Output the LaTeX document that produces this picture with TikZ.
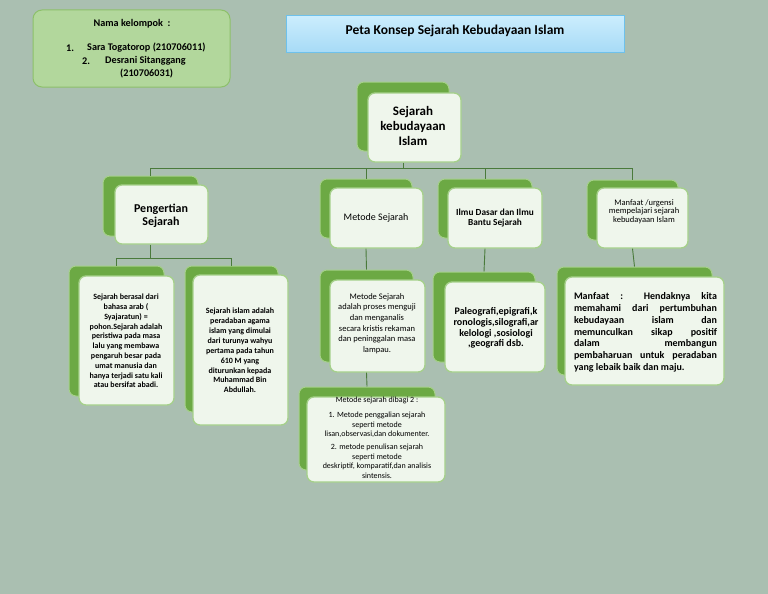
\documentclass[tikz,border=0pt]{standalone}
\usepackage{fontspec}
\setmainfont{Carlito}
\usetikzlibrary{fit}
\definecolor{bgc}{HTML}{AABFB1}
\definecolor{backgreen}{HTML}{6CA944}
\definecolor{boxedge}{HTML}{A5D08A}
\definecolor{frontfill}{HTML}{EFF6EC}
\definecolor{connc}{HTML}{4A7A3B}
\definecolor{namefill}{HTML}{B2D79C}
\definecolor{nameedge}{HTML}{8DC06A}
\definecolor{titletop}{HTML}{CBEDFD}
\definecolor{titlebot}{HTML}{A6DAF6}
\definecolor{titleedge}{HTML}{6EC1EB}
\begin{document}
\begin{tikzpicture}[x=1pt,y=-1pt,
  backbox/.style={draw=boxedge, line width=1pt, fill=backgreen, rounded corners=7pt, inner sep=0pt},
  frontbox/.style={draw=boxedge, line width=1.3pt, fill=frontfill, rounded corners=7pt, inner sep=0pt},
  txt/.style={inner sep=0pt, align=center, text=black},
  namefont/.style={font=\fontsize{10.2}{12}\selectfont\bfseries},
  conn/.style={draw=connc, line width=0.9pt}]
\fill[bgc] (0,0) rectangle (768,594);
\useasboundingbox (0,0) rectangle (768,594);

% name box and title
\node[draw=nameedge, line width=1pt, fill=namefill, rounded corners=9pt, inner sep=0pt, fit={(33,10) (230,87)}] (nameBox) {};
\node[txt, namefont] (nameT) at (132,24) {Nama kelompok \ :};
\node[txt, anchor=west, namefont] (nameN1) at (66,48) {1.};
\node[txt, anchor=west, namefont] (nameL1) at (87,48) {Sara Togatorop (210706011)};
\node[txt, anchor=west, namefont] (nameN2) at (82,61) {2.};
\node[txt, anchor=west, namefont] (nameL2) at (105,61) {Desrani Sitanggang};
\node[txt, anchor=west, namefont] (nameL3) at (120,73) {(210706031)};

\node[draw=titleedge, line width=1pt, top color=titletop, bottom color=titlebot, inner sep=0pt, fit={(286,16) (624,53)}] (titleBox) {};
\node[txt, font=\fontsize{13.5}{15}\selectfont\bfseries] (titleT) at (455,30.5) {Peta Konsep Sejarah Kebudayaan Islam};

% boxes
\node[backbox, fit={(357,82) (449,151)}] (rootB) {};
\node[frontbox, fit={(368,93) (461,162)}] (rootF) {};
\node[backbox, fit={(103,176) (198,236)}] (pengB) {};
\node[frontbox, fit={(115,185) (208,244)}] (pengF) {};
\node[backbox, fit={(320,179) (412,238)}] (metB) {};
\node[frontbox, fit={(330,188) (423,248)}] (metF) {};
\node[backbox, fit={(438,179) (532,238)}] (ilmuB) {};
\node[frontbox, fit={(448,188) (542,248)}] (ilmuF) {};
\node[backbox, fit={(587,180) (678,240)}] (manfB) {};
\node[frontbox, fit={(597,188) (688,248)}] (manfF) {};
\node[backbox, fit={(69,266) (164,396)}] (b1B) {};
\node[frontbox, fit={(79,276) (174,405)}] (b1F) {};
\node[backbox, fit={(185,266) (278,412)}] (b2B) {};
\node[frontbox, fit={(193,275) (288,425)}] (b2F) {};
\node[backbox, fit={(320,270) (413,362)}] (mboxB) {};
\node[frontbox, fit={(330,280) (425,372)}] (mboxF) {};
\node[backbox, fit={(299,387) (435,470)}] (dibB) {};
\node[frontbox, fit={(307,397) (445,482)}] (dibF) {};
\node[backbox, fit={(433,272) (535,362)}] (paleoB) {};
\node[frontbox, fit={(445,282) (545,372)}] (paleoF) {};
\node[backbox, fit={(557,267) (712,375)}] (mbB) {};
\node[frontbox, fit={(565,277) (724,385)}] (mbF) {};

% connectors
\coordinate (bus) at (405,168);
\coordinate (bus2) at (152,258);
\draw[conn] (rootB.center |- rootF.south) -- (rootB.center |- bus);
\draw[conn] (pengB.north) -- (pengB.north |- bus) -- (manfB.north |- bus) -- (manfB.north);
\draw[conn] (metB.north) -- (metB.north |- bus);
\draw[conn] (ilmuB.north) -- (ilmuB.north |- bus);
\draw[conn] (pengB.center |- pengF.south) -- (pengB.center |- bus2);
\draw[conn] (b1B.north) -- (b1B.north |- bus2) -- (b2B.north |- bus2) -- (b2B.north);
\draw[conn] (metB.center |- metF.south) -- (mboxB.north);
\draw[conn] (mboxB.center |- mboxF.south) -- (dibB.north);
\draw[conn] (ilmuB.center |- ilmuF.south) -- (paleoB.north);
\draw[conn] (manfB.center |- manfF.south) -- (mbB.north);

% texts
\node[txt, font=\fontsize{13}{15}\selectfont\bfseries] (rootT) at (413,126) {Sejarah\\kebudayaan\\Islam};
\node[txt, font=\fontsize{12}{13}\selectfont\bfseries] (pengT) at (161,215.5) {Pengertian\\Sejarah};
\node[txt, font=\fontsize{10}{12}\selectfont] (metT) at (376,218) {Metode Sejarah};
\node[txt, font=\fontsize{9.3}{10}\selectfont\bfseries] (ilmuT) at (495,218) {Ilmu Dasar dan Ilmu\\Bantu Sejarah};
\node[txt, font=\fontsize{8.5}{8.7}\selectfont] (manfT) at (644,211.5) {Manfaat /urgensi\\mempelajari sejarah\\kebudayaan Islam};
\node[txt, font=\fontsize{8}{9.8}\selectfont\bfseries] (b1T) at (126,341) {Sejarah berasal dari\\bahasa arab (\\Syajaratun) =\\pohon.Sejarah adalah\\peristiwa pada masa\\lalu yang membawa\\pengaruh besar pada\\umat manusia dan\\hanya terjadi satu kali\\atau bersifat abadi.};
\node[txt, font=\fontsize{8}{9.9}\selectfont\bfseries] (b2T) at (240,350.5) {Sejarah islam adalah\\peradaban agama\\islam yang dimulai\\dari turunya wahyu\\pertama pada tahun\\610 M yang\\diturunkan kepada\\Muhammad Bin\\Abdullah.};
\node[txt, font=\fontsize{8.5}{10.6}\selectfont] (mboxT) at (377,323.5) {Metode Sejarah\\adalah proses menguji\\dan menganalis\\secara kristis rekaman\\dan peninggalan masa\\lampau.};
\node[txt, font=\fontsize{8}{9.5}\selectfont] (dibT) at (377,437.5) {Metode sejarah dibagi 2 :\\[5.5pt]1. Metode penggalian sejarah\\seperti metode\\lisan,observasi,dan dokumenter.\\[3.5pt]2. metode penulisan sejarah\\seperti metode\\deskriptif, komparatif,dan analisis\\sintensis.};
\node[txt, font=\fontsize{10}{10.8}\selectfont\bfseries] (paleoT) at (496,328) {Paleografi,epigrafi,k\\ronologis,silografi,ar\\kelologi ,sosiologi\\,geografi dsb.};
\node[txt, align=left, font=\fontsize{10}{11.8}\selectfont\bfseries] (mbT) at (645.5,332.5) {\makebox[143pt][s]{Manfaat : Hendaknya kita}\\\makebox[143pt][s]{memahami dari pertumbuhan}\\\makebox[143pt][s]{kebudayaan islam dan}\\\makebox[143pt][s]{memunculkan sikap positif}\\\makebox[143pt][s]{dalam membangun}\\\makebox[143pt][s]{pembaharuan untuk peradaban}\\\makebox[143pt][l]{yang lebaik baik dan maju.}};
\end{tikzpicture}
\end{document}
